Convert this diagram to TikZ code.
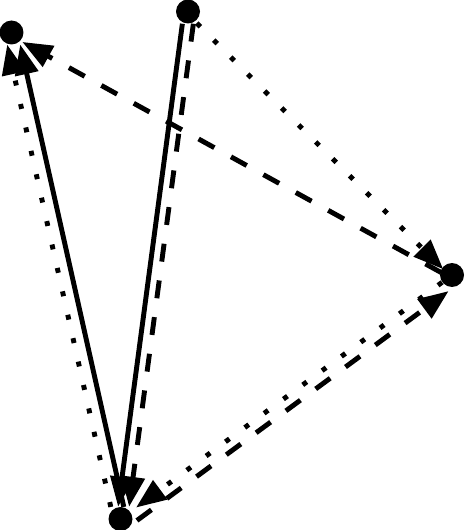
\documentclass[tikz,border=0pt]{standalone}
\usetikzlibrary{arrows.meta}
\begin{document}
\begin{tikzpicture}[x=0.02cm, y=-0.02cm,
    zustand/.style={circle, fill=black, inner sep=0pt, minimum size=0.48cm},
    kante/.style={line width=2.8pt, -{Triangle[length=0.6cm, width=0.46cm]}},
    gestrichelt/.style={kante, dash pattern=on 0.36cm off 0.38cm},
    gepunktet/.style={kante, dash pattern=on 0.1cm off 0.38cm}]

\useasboundingbox (0,0) rectangle (464,530);

% Zustaende
\node[zustand] (oben) at (188,11.5) {};
\node[zustand] (links) at (11.5,32.5) {};
\node[zustand] (rechts) at (452,275) {};
\node[zustand] (unten) at (120.5,519) {};

% Kanten von oben
\draw[kante, transform canvas={xshift=-0.08cm}] (oben) -- (unten);
\draw[gestrichelt, transform canvas={xshift=0.14cm}] (oben) -- (unten);
\draw[gepunktet, transform canvas={yshift=-0.06cm}] (oben) -- (rechts);

% Kanten von unten
\draw[kante, transform canvas={xshift=0.12cm}] (unten) -- (links);
\draw[gepunktet, transform canvas={xshift=-0.14cm}] (unten) -- (links);
\draw[gestrichelt, transform canvas={xshift=0.13cm, yshift=-0.176cm}] (unten) -- (rechts);

% Kanten von rechts
\draw[gestrichelt, transform canvas={yshift=-0.07cm}] (rechts) -- (links);
\draw[gepunktet, shorten >=0.14cm] (rechts) -- (unten);

\end{tikzpicture}
\end{document}
